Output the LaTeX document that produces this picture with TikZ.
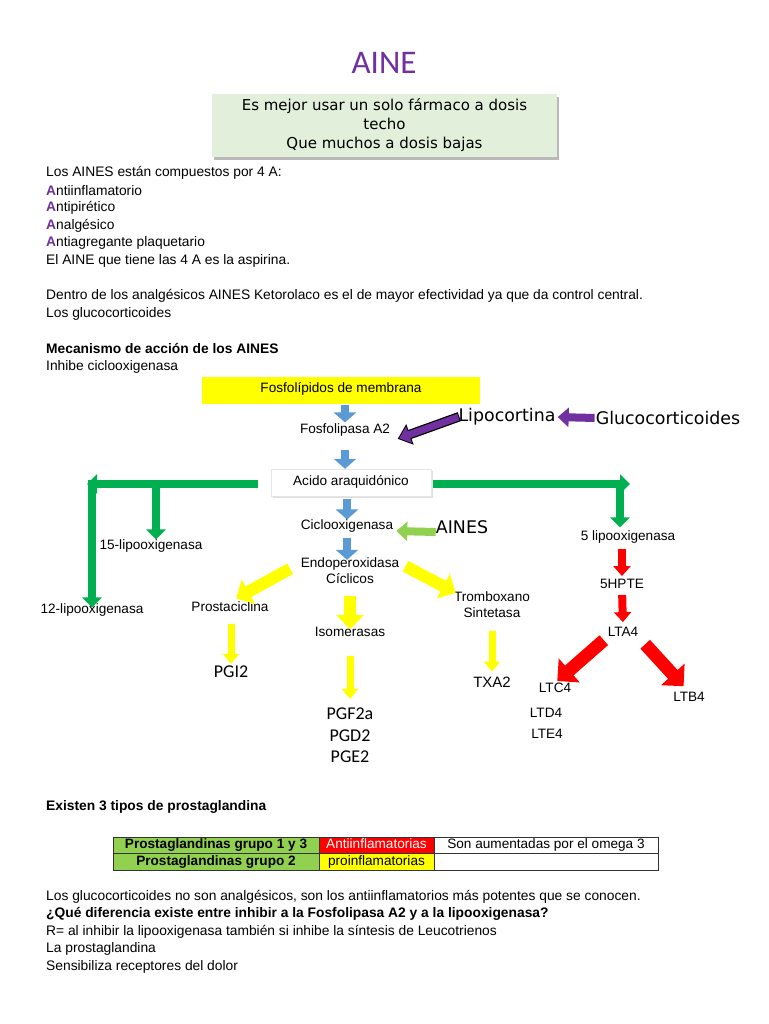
\documentclass[tikz,border=0pt]{standalone}
\usepackage{fontspec}
\setmainfont{Liberation Sans}
\newfontfamily\dejavu{DejaVu Sans}
\newfontfamily\carlito{Carlito}
\usepackage{xcolor}
\usepackage{tikz}
\usetikzlibrary{arrows.meta, shadows, positioning}

\definecolor{ainepurple}{HTML}{7030A0}
\definecolor{aineyellow}{HTML}{FFFF00}
\definecolor{aineblue}{HTML}{5B9BD5}
\definecolor{ainegreen}{HTML}{00B050}
\definecolor{ainelime}{HTML}{92D050}
\definecolor{ainered}{HTML}{FF0000}
\definecolor{boxgreen}{HTML}{E2EFDA}

\begin{document}
\begin{tikzpicture}[x=1pt, y=-1pt,
    every node/.style={inner sep=0pt},
    body/.style={anchor=west, font=\fontsize{13.8}{16}\selectfont},
    lbl/.style={font=\fontsize{13.6}{16}\selectfont, align=center},
    big/.style={font=\dejavu\fontsize{17.4}{20}\selectfont},
    pglbl/.style={font=\carlito\fontsize{18}{21.5}\selectfont, align=center},
    bluearr/.style={draw=aineblue, line width=8pt, -{Triangle[width=22pt, length=10pt]}},
    greenarr/.style={draw=ainegreen, line width=8pt, -{Triangle[width=19pt, length=10pt]}},
    redarr/.style={draw=ainered, line width=8pt, -{Triangle[width=17pt, length=10pt]}},
    redbig/.style={draw=ainered, line width=13pt, -{Triangle[width=31pt, length=16pt]}},
    yelarr/.style={draw=aineyellow, line width=7pt, -{Triangle[width=16pt, length=10pt]}},
    yelbig/.style={draw=aineyellow, line width=12pt, -{Triangle[width=27pt, length=14pt]}},
    cell/.style={draw=black!80, line width=0.8pt, minimum height=16.5pt, text height=9.8pt, text depth=2.8pt,
                 font=\fontsize{13.6}{15}\selectfont}]

    % 1. Fondo y título
    \fill[white] (0,0) rectangle (768,1024);
    \useasboundingbox (0,0) rectangle (768,1024);
    \node[font=\carlito\fontsize{33}{36}\selectfont, text=ainepurple] (title) at (384,63) {AINE};
    \node[fill=boxgreen, minimum width=345pt, minimum height=63pt, align=center,
          font=\dejavu\fontsize{15}{19}\selectfont,
          drop shadow={opacity=0.55, shadow xshift=2pt, shadow yshift=-3pt}] (techo) at (384.5,125.5)
        {Es mejor usar un solo fármaco a dosis\\techo\\Que muchos a dosis bajas};

    % 2. Texto
    \node[body] (intro) at (46,173) {Los AINES están compuestos por 4 A:};
    \foreach \w [count=\i] in {ntiinflamatorio, ntipirético, nalgésico, ntiagregante plaquetario}
        \node[body] (a\i) at (46, {173+17.6*\i}) {\textcolor{ainepurple}{\textbf{A}}\w};
    \node[body] (aspirina) at (46,261) {El AINE que tiene las 4 A es la aspirina.};
    \node[body] (dentro) at (46,296) {Dentro de los analgésicos AINES Ketorolaco es el de mayor efectividad ya que da control central.};
    \node[body] (gluc) at (46,314) {Los glucocorticoides};
    \node[body] (meca) at (46,349) {\textbf{Mecanismo de acción de los AINES}};
    \node[body] (inhibe) at (46,367) {Inhibe ciclooxigenasa};

    % 3. Cascada del ácido araquidónico
    \node[lbl, fill=aineyellow, minimum width=278pt, minimum height=27pt, text depth=6pt] (fosfo) at (341,390) {Fosfolípidos de membrana};
    \node[lbl] (fla2) at (345,430) {Fosfolipasa A2};
    \node[lbl, fill=white, draw=gray!20, minimum width=160pt, minimum height=27pt, text depth=5pt,
          drop shadow={opacity=0.25, shadow xshift=1.5pt, shadow yshift=-2pt}] (acido) at (351,482.5) {Acido araquidónico};
    \node[lbl] (cox) at (347,526) {Ciclooxigenasa};
    \node[lbl] (endo) at (350,571) {Endoperoxidasa\\Cíclicos};
    \node[big] (lipocort) at (507,417) {Lipocortina};
    \node[big] (gluco) at (668,418) {Glucocorticoides};
    \node[big] (aines) at (462,527) {AINES};

    \draw[bluearr, shorten <=1pt, shorten >=1pt] (fosfo.south -| fla2) -- (fla2.north);
    \draw[bluearr, shorten <=13pt] (fla2.south) -- (fla2.south |- acido.north);
    \draw[bluearr, shorten <=3pt] (acido.south -| cox) -- (cox.north);
    \draw[bluearr, shorten <=5pt, shorten >=-2pt] (cox.south) -- (cox.south |- endo.north);

    \draw[draw=black, line width=9.5pt, -{Triangle[width=21pt, length=13pt]}, shorten <=-1pt, shorten >=8pt]
        (lipocort.west) -- ([yshift=-5pt]fla2.south east);
    \draw[draw=ainepurple, line width=7pt, -{Triangle[width=17pt, length=10.5pt]}, shorten >=9.5pt]
        (lipocort.west) -- ([yshift=-5pt]fla2.south east);
    \draw[draw=ainepurple, line width=8pt, -{Triangle[width=19pt, length=11pt]}, shorten <=1pt, shorten >=2pt]
        (gluco.west) -- (lipocort.east);
    \draw[draw=ainelime, line width=8pt, -{Triangle[width=19pt, length=11pt]}, shorten >=3pt]
        ([yshift=-5pt]aines.west) -- ([yshift=-5pt]cox.east);

    % 4. Lipooxigenasas
    \node[lbl] (lox15) at (151,546) {15-lipooxigenasa};
    \node[lbl] (lox12) at (92,610) {12-lipooxigenasa};
    \node[lbl] (lox5) at (628,537) {5 lipooxigenasa};
    \draw[greenarr] ([xshift=-13pt, yshift=-1.5pt]acido.west) -- ([xshift=-5pt, yshift=-1.5pt]acido.west -| lox12);
    \draw[greenarr, shorten <=-4pt, shorten >=-4pt] ([yshift=-1.5pt]acido.west -| lox12) -- (lox12.north);
    \draw[greenarr, shorten <=-4pt] ([xshift=5pt, yshift=-1.5pt]acido.west -| lox15) -- ([xshift=5pt]lox15.north);
    \draw[greenarr] ([xshift=2pt, yshift=-1.5pt]acido.east) -- ([xshift=2pt, yshift=-1.5pt]acido.east -| lox5);
    \draw[greenarr, shorten <=-4pt, shorten >=3pt] ([xshift=-8pt, yshift=-1.5pt]acido.east -| lox5) -- ([xshift=-8pt]lox5.north);

    \node[lbl] (hpte) at (622,584) {5HPTE};
    \node[lbl] (lta4) at (623,632) {LTA4};
    \node[lbl] (ltc4) at (555,688) {LTC4};
    \node[lbl] (ltd4) at (546,713) {LTD4};
    \node[lbl] (lte4) at (547,734) {LTE4};
    \node[lbl] (ltb4) at (689,697) {LTB4};
    \draw[redarr, shorten <=5pt, shorten >=3pt] (lox5.south -| hpte) -- (hpte.north);
    \draw[redarr, shorten <=6pt, shorten >=5pt] (hpte.south) -- (lta4.north);
    \draw[redbig, shorten <=5pt, shorten >=3pt] (lta4.south west) -- (ltc4.north);
    \draw[redbig, shorten <=10pt, shorten >=8pt] (lta4.south east) -- (ltb4.north);

    % 5. Prostaglandinas y tromboxano
    \node[lbl] (prost) at (230,607) {Prostaciclina};
    \node[lbl] (isom) at (350,632) {Isomerasas};
    \node[lbl] (trombox) at (492,605) {Tromboxano\\Sintetasa};
    \node[pglbl] (pgi2) at (231,672) {PGI2};
    \node[pglbl] (pgs) at (350,735.5) {PGF2a\\PGD2\\PGE2};
    \node[pglbl, font=\fontsize{15}{18}\selectfont] (txa2) at (492,682) {TXA2};
    \draw[yelbig, shorten <=12pt, shorten >=7pt] ([yshift=8pt]endo.west) -- (prost.north);
    \draw[yelbig, shorten <=7pt, shorten >=-2pt] ([yshift=8pt]endo.east) -- (trombox.north west);
    \draw[yelbig, shorten <=12pt, shorten >=-2pt] (endo.south) -- (isom.north);
    \draw[yelarr, shorten <=12pt, shorten >=2pt] (prost.south -| pgi2) -- (pgi2.north);
    \draw[yelarr, shorten <=19pt, shorten >=9pt] (isom.south) -- (pgs.north);
    \draw[yelarr, shorten <=13pt, shorten >=5pt] (trombox.south) -- (txa2.north);

    % 6. Tabla de prostaglandinas
    \node[body] (existen) at (46,807) {\textbf{Existen 3 tipos de prostaglandina}};
    \node[cell, fill=ainelime, minimum width=206pt, font=\fontsize{13.6}{15}\selectfont\bfseries] (g13) at (216,845.25) {Prostaglandinas grupo 1 y 3};
    \node[cell, fill=ainelime, minimum width=206pt, font=\fontsize{13.6}{15}\selectfont\bfseries] (g2) at (216,861.75) {Prostaglandinas grupo 2};
    \node[cell, fill=ainered, text=white, minimum width=115pt] (anti) at (376.5,845.25) {Antiinflamatorias};
    \node[cell, fill=aineyellow, minimum width=115pt] (proi) at (376.5,861.75) {proinflamatorias};
    \node[cell, fill=white, minimum width=224pt] (omega) at (546,845.25) {Son aumentadas por el omega 3};
    \node[cell, fill=white, minimum width=224pt] (vacio) at (546,861.75) {};

    % 7. Texto final
    \node[body] (noanal) at (46,897) {Los glucocorticoides no son analgésicos, son los antiinflamatorios más potentes que se conocen.};
    \node[body] (pregunta) at (46,914) {\textbf{¿Qué diferencia existe entre inhibir a la Fosfolipasa A2 y a la lipooxigenasa?}};
    \node[body] (resp) at (46,932) {R= al inhibir la lipooxigenasa también si inhibe la síntesis de Leucotrienos};
    \node[body] (prosta) at (46,949) {La prostaglandina};
    \node[body] (sensib) at (46,967) {Sensibiliza receptores del dolor};
\end{tikzpicture}
\end{document}
